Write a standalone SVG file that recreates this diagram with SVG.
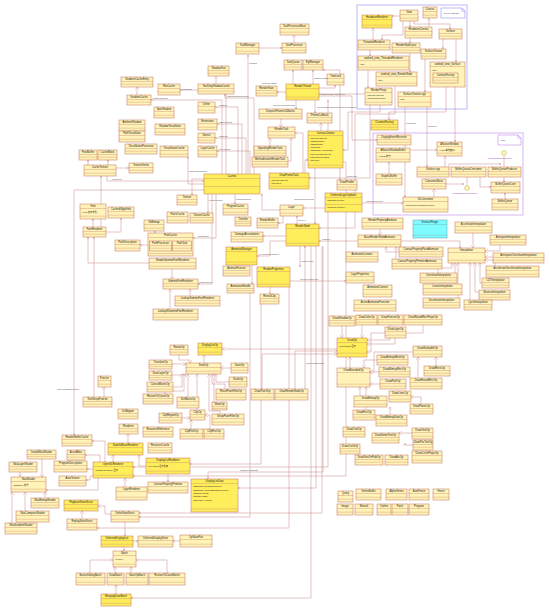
<svg xmlns="http://www.w3.org/2000/svg" width="550" height="611" viewBox="0 0 550 611">
<defs>
<marker id="t" viewBox="0 0 10 10" refX="10" refY="5" markerWidth="3.4" markerHeight="3.4" orient="auto" markerUnits="userSpaceOnUse"><path d="M0,0L10,5L0,10z" fill="#fff" stroke="#c47470" stroke-width="1.1"/></marker>
<marker id="a" viewBox="0 0 10 10" refX="10" refY="5" markerWidth="2.4" markerHeight="2.4" orient="auto" markerUnits="userSpaceOnUse"><path d="M0,0L10,5L0,10" fill="none" stroke="#c47470" stroke-width="1.6"/></marker>
</defs>
<style>
.n rect{fill:#fff3b8;stroke:#c47a6c;stroke-width:.55}
.h rect{fill:#ffee5c}
.cy rect{fill:#7ffcff;stroke:#6fa0a0}
.n path{fill:none;stroke:#c47a6c;stroke-width:.35}
.n text{font-family:"Liberation Sans","Noto Sans CJK SC",sans-serif;font-size:2.6px;fill:#222;text-anchor:middle}
.n text.f{font-size:2.2px;text-anchor:start}
.c path{fill:none;stroke:#c98584;stroke-width:.5}
.c .g{marker-end:url(#t)}
.c .s{marker-end:url(#a)}
.lb text{font-family:"Liberation Sans",sans-serif;font-size:2.3px;fill:#555}
.lb text.p{fill:#a040c0}
.fr{fill:none;stroke-width:.75}
.note path{fill:#fff;stroke-width:.5}
.note text{font-family:"Liberation Sans",sans-serif;font-size:2.4px;fill:#333}
</style>
<rect width="550" height="611" fill="#fff"/>
<rect class="fr" x="357" y="5" width="110" height="104" stroke="#a6a2f4"/>
<rect class="fr" x="373" y="133" width="150" height="82" stroke="#cc9cf0"/>
<g id="connectors" class="c">
<path class="g" d="M137 95V87"/>
<path class="g" d="M294 43V35"/>
<path class="g" d="M216 84V76"/>
<path class="g" d="M281 119V127"/>
<path class="g" d="M270 146V138"/>
<path class="g" d="M288 161H291V138"/>
<path class="g" d="M303 173V133H295"/>
<path class="g" d="M321 131V123"/>
<path class="g" d="M373 40V28"/>
<path class="g" d="M429 27V18"/>
<path class="g" d="M446 85V112H389V120"/>
<path class="g" d="M389 174V162"/>
<path class="g" d="M445 167V156"/>
<path class="g" d="M434 197V189"/>
<path class="g" d="M380 229V235"/>
<path class="g" d="M399 252H386V247"/>
<path class="g" d="M396 259V247"/>
<path class="g" d="M473 233V248"/>
<path class="g" d="M500 245V251H485"/>
<path class="g" d="M493 257H485"/>
<path class="g" d="M495 266V260H485"/>
<path class="g" d="M438 273V268H452V263"/>
<path class="g" d="M455 284V263"/>
<path class="g" d="M458 298V263"/>
<path class="g" d="M470 300V263"/>
<path class="g" d="M479 292H475V263"/>
<path class="g" d="M482 283H480V263"/>
<path class="g" d="M204 363V355"/>
<path class="g" d="M337 349H222"/>
<path class="g" d="M172 364H186"/>
<path class="g" d="M172 375H186"/>
<path class="g" d="M179 355V360H190V363"/>
<path class="g" d="M173 387H182V374"/>
<path class="g" d="M165 394V391H184V374"/>
<path class="g" d="M188 397V374"/>
<path class="g" d="M197 410V374"/>
<path class="g" d="M231 368H221"/>
<path class="g" d="M229 382H216V374"/>
<path class="g" d="M225 389V384H212V374"/>
<path class="g" d="M214 402V374"/>
<path class="g" d="M220 414V411H209V374"/>
<path class="g" d="M191 429V420"/>
<path class="g" d="M210 429V415H205"/>
<path class="g" d="M182 418H190"/>
<path class="g" d="M342 326V338"/>
<path class="g" d="M362 325V338"/>
<path class="g" d="M390 325V340H367"/>
<path class="g" d="M395 338V344H367"/>
<path class="g" d="M423 325V333H371V352H367"/>
<path class="g" d="M413 352H374V372H370"/>
<path class="g" d="M350 368V357"/>
<path class="g" d="M377 360H364V368"/>
<path class="g" d="M379 372H370"/>
<path class="g" d="M380 384H370"/>
<path class="g" d="M436 366V357"/>
<path class="g" d="M418 378V357"/>
<path class="g" d="M360 396V387"/>
<path class="g" d="M366 410V387"/>
<path class="g" d="M390 415V407"/>
<path class="g" d="M421 404V397H411"/>
<path class="g" d="M412 433H399"/>
<path class="g" d="M413 445H405V443"/>
<path class="g" d="M262 389V354H337"/>
<path class="g" d="M295 389V351H337"/>
<path class="g" d="M172 269V279"/>
<path class="g" d="M190 296V289"/>
<path class="g" d="M170 309V289"/>
<path class="g" d="M104 397V387"/>
<path class="g" d="M20 472V477"/>
<path class="g" d="M42 459V477"/>
<path class="g" d="M45 498V492"/>
<path class="g" d="M25 511V492"/>
<path class="g" d="M12 523V492"/>
<path class="g" d="M113 462V455"/>
<path class="g" d="M128 443V434"/>
<path class="g" d="M146 466H139V455"/>
<path class="g" d="M125 487V478"/>
<path class="g" d="M82 519V511"/>
<path class="g" d="M111 514H105V506H98"/>
<path class="g" d="M90 573V560H113"/>
<path class="g" d="M115 573V567"/>
<path class="g" d="M131 573V567"/>
<path class="g" d="M167 573V560H136"/>
<path class="g" d="M116 594V585"/>
<path class="s" d="M222 174V100H151"/>
<path class="s" d="M226 174V90H180"/>
<path class="s" d="M238 174V107H215"/>
<path class="s" d="M242 174V124H217"/>
<path class="s" d="M246 174V138H215"/>
<path class="s" d="M250 174V151H217"/>
<path class="s" d="M254 174V98H225V94"/>
<path class="s" d="M204 184H188V157"/>
<path class="s" d="M208 194V213"/>
<path class="s" d="M235 194V204"/>
<path class="s" d="M216 194V238H193"/>
<path class="s" d="M107 176V181H204"/>
<path class="s" d="M204 190H74V435"/>
<path class="s" d="M204 179H192V195"/>
<path class="s" d="M212 194V284H198"/>
<path class="s" d="M116 168H129"/>
<path class="s" d="M88 165V160"/>
<path class="s" d="M108 165V160"/>
<path class="s" d="M93 227V219"/>
<path class="s" d="M101 227V176"/>
<path class="s" d="M106 232H121V218"/>
<path class="s" d="M94 397V237"/>
<path class="s" d="M155 233V231"/>
<path class="s" d="M148 245H140"/>
<path class="s" d="M149 263H88V237"/>
<path class="s" d="M248 174V55"/>
<path class="s" d="M259 48H282"/>
<path class="s" d="M293 84V70"/>
<path class="s" d="M313 84V70"/>
<path class="s" d="M286 92H277"/>
<path class="s" d="M319 88H335V85"/>
<path class="s" d="M296 100V109"/>
<path class="s" d="M315 100V113"/>
<path class="s" d="M319 96H352V140H377"/>
<path class="s" d="M365 94H319"/>
<path class="s" d="M370 105V178H309"/>
<path class="s" d="M380 105V112H348V150H343"/>
<path class="s" d="M305 173V160H308"/>
<path class="s" d="M328 131V100"/>
<path class="s" d="M340 131V70H323"/>
<path class="s" d="M315 168V224"/>
<path class="s" d="M340 168V180"/>
<path class="s" d="M325 208H303"/>
<path class="s" d="M297 224V216"/>
<path class="s" d="M280 210H262V194"/>
<path class="s" d="M283 216V223H278"/>
<path class="s" d="M286 236H263"/>
<path class="s" d="M286 241H270V256H257"/>
<path class="s" d="M300 246V267"/>
<path class="s" d="M290 281H346"/>
<path class="s" d="M270 287V294"/>
<path class="s" d="M252 265V284"/>
<path class="s" d="M358 241H319"/>
<path class="s" d="M401 241H460V248"/>
<path class="s" d="M362 203H403"/>
<path class="s" d="M405 107V197"/>
<path class="s" d="M427 107V167"/>
<path class="s" d="M400 16H392"/>
<path class="s" d="M410 21V27"/>
<path class="s" d="M414 21V24H450V29"/>
<path class="s" d="M403 21V35H382V40"/>
<path class="s" d="M410 38V43"/>
<path class="s" d="M443 39V49"/>
<path class="s" d="M456 39V62"/>
<path class="s" d="M370 50V56"/>
<path class="s" d="M410 53V72"/>
<path class="s" d="M425 59V92"/>
<path class="s" d="M368 70V88"/>
<path class="s" d="M395 86V114H355V228H319"/>
<path class="s" d="M455 87V142"/>
<path class="s" d="M410 150H437"/>
<path d="M504 156V167"/>
<path d="M467 177V185"/>
<path class="s" d="M446 184H464"/>
<path class="s" d="M449 169V164H501"/>
<path class="s" d="M504 177V182"/>
<path class="s" d="M480 177V187H491"/>
<path class="s" d="M505 199V193"/>
<path class="s" d="M250 293V517H139"/>
<path class="s" d="M261 304V464H190"/>
<path class="s" d="M289 287V528H97"/>
<path class="s" d="M311 246V598H131"/>
<path class="s" d="M316 246V488H238"/>
<path class="s" d="M322 246V513H139"/>
<path class="s" d="M323 246V472H208V479"/>
<path class="s" d="M328 212V467H133"/>
<path class="s" d="M343 162H346V476H133"/>
<path class="s" d="M305 389V246"/>
<path class="s" d="M93 469H87"/>
<path class="s" d="M93 476H90V480H86"/>
<path class="s" d="M100 462V455H85"/>
<path class="s" d="M105 462V441H92"/>
<path class="s" d="M98 478V490H46"/>
<path class="s" d="M168 474V482"/>
<path class="s" d="M125 522V536"/>
<path class="s" d="M124 547V551"/>
<path class="s" d="M133 541H138"/>
<path class="s" d="M180 541H173"/>
</g>
<g id="nodes">
<g id="GradientCacheEntry" class="n"><rect x="121" y="77" width="32" height="10"/><path d="M121 81.5h32M121 84.2h32"/><text x="137" y="80.4">GradientCacheEntry</text></g>
<g id="FboCache" class="n"><rect x="158" y="84" width="22" height="11"/><path d="M158 88.5h22M158 92.2h22"/><text x="169" y="87.4">FboCache</text></g>
<g id="GradientCache" class="n"><rect x="127" y="95" width="24" height="10"/><path d="M127 99.5h24M127 102.2h24"/><text x="139" y="98.4">GradientCache</text></g>
<g id="SpotShadow" class="n"><rect x="154" y="107" width="20" height="11"/><path d="M154 111.5h20M154 115.2h20"/><text x="164" y="110.4">SpotShadow</text></g>
<g id="AmbientShadow" class="n"><rect x="119" y="120" width="26" height="11"/><path d="M119 124.5h26M119 128.2h26"/><text x="132" y="123.4">AmbientShadow</text></g>
<g id="ShadowTessellator" class="n"><rect x="155" y="124" width="30" height="11"/><path d="M155 128.5h30M155 132.2h30"/><text x="170" y="127.4">ShadowTessellator</text></g>
<g id="PathTessellator" class="n"><rect x="119" y="131" width="26" height="11"/><path d="M119 135.5h26M119 139.2h26"/><text x="132" y="134.4">PathTessellator</text></g>
<g id="TessellationProcessor" class="n"><rect x="125" y="144" width="32" height="10"/><path d="M125 148.5h32M125 151.2h32"/><text x="141" y="147.4">TessellationProcessor</text></g>
<g id="TessellationCache" class="n"><rect x="160" y="146" width="28" height="11"/><path d="M160 150.5h28M160 154.2h28"/><text x="174" y="149.4">TessellationCache</text></g>
<g id="PixelBuffer" class="n"><rect x="79" y="150" width="18" height="10"/><path d="M79 154.5h18M79 157.2h18"/><text x="88" y="153.4">PixelBuffer</text></g>
<g id="CacheBlock" class="n"><rect x="98" y="150" width="19" height="10"/><path d="M98 154.5h19M98 157.2h19"/><text x="107.5" y="153.4">CacheBlock</text></g>
<g id="CacheTexture" class="n"><rect x="84" y="165" width="32" height="11"/><path d="M84 169.5h32M84 173.2h32"/><text x="100" y="168.4">CacheTexture</text></g>
<g id="TextureVertex" class="n"><rect x="129" y="163" width="24" height="10"/><path d="M129 167.5h24M129 170.2h24"/><text x="141" y="166.4">TextureVertex</text></g>
<g id="Font" class="n"><rect x="80" y="204" width="26" height="15"/><path d="M80 208.5h26M80 216.2h26"/><text x="93" y="207.4">Font</text><text class="f" x="81.5" y="212.6">+Font(缓存字形)</text></g>
<g id="CachedGlyphInfo" class="n"><rect x="108" y="207" width="26" height="11"/><path d="M108 211.5h26M108 215.2h26"/><text x="121" y="210.4">CachedGlyphInfo</text></g>
<g id="FontRenderer" class="n"><rect x="83" y="227" width="23" height="10"/><path d="M83 231.5h23M83 234.2h23"/><text x="94.5" y="230.4">FontRenderer</text></g>
<g id="SkBitmap" class="n"><rect x="144" y="220" width="20" height="11"/><path d="M144 224.5h20M144 228.2h20"/><text x="154" y="223.4">SkBitmap</text></g>
<g id="PathCache" class="n"><rect x="148" y="233" width="45" height="23"/><path d="M148 237.5h45M148 253.5h45"/><text x="170.5" y="236.4">PathCache</text>
<rect x="149.5" y="241" width="22" height="10"/><path d="M149.5 245.5h22M149.5 248.2h22"/><text x="160.5" y="244.4">PathProcessor</text>
<rect x="172.5" y="241" width="19" height="10"/><path d="M172.5 245.5h19M172.5 248.2h19"/><text x="182" y="244.4">PathTask</text></g>
<g id="PathDescription" class="n"><rect x="115" y="240" width="25" height="11"/><path d="M115 244.5h25M115 248.2h25"/><text x="127.5" y="243.4">PathDescription</text></g>
<g id="ShaderGammaFontRenderer" class="n"><rect x="149" y="258" width="47" height="11"/><path d="M149 262.5h47M149 266.2h47"/><text x="172.5" y="261.4">ShaderGammaFontRenderer</text></g>
<g id="GammaFontRenderer" class="n"><rect x="163" y="279" width="35" height="10"/><path d="M163 283.5h35M163 286.2h35"/><text x="180.5" y="282.4">GammaFontRenderer</text></g>
<g id="LookupGammaFontRenderer" class="n"><rect x="175" y="296" width="45" height="10"/><path d="M175 300.5h45M175 303.2h45"/><text x="197.5" y="299.4">LookupGammaFontRenderer</text></g>
<g id="Lookup3GammaFontRenderer" class="n"><rect x="153" y="309" width="45" height="11"/><path d="M153 313.5h45M153 317.2h45"/><text x="175.5" y="312.4">Lookup3GammaFontRenderer</text></g>
<g id="TaskProcessorBase" class="n"><rect x="280" y="24" width="29" height="11"/><path d="M280 28.5h29M280 32.2h29"/><text x="294.5" y="27.4">TaskProcessorBase</text></g>
<g id="TaskProcessor" class="n"><rect x="282" y="43" width="24" height="10"/><path d="M282 47.5h24M282 50.2h24"/><text x="294" y="46.4">TaskProcessor</text></g>
<g id="TaskManager" class="n"><rect x="236" y="43" width="23" height="11"/><path d="M236 47.5h23M236 51.2h23"/><text x="247.5" y="46.4">TaskManager</text></g>
<g id="TaskQueue" class="n"><rect x="284" y="60" width="18" height="10"/><path d="M284 64.5h18M284 67.2h18"/><text x="293" y="63.4">TaskQueue</text></g>
<g id="EglManager" class="n"><rect x="303" y="60" width="20" height="10"/><path d="M303 64.5h20M303 67.2h20"/><text x="313" y="63.4">EglManager</text></g>
<g id="ShadowText" class="n"><rect x="208" y="66" width="21" height="10"/><path d="M208 70.5h21M208 73.2h21"/><text x="218.5" y="69.4">ShadowText</text></g>
<g id="TextDropShadowCache" class="n"><rect x="198" y="84" width="36" height="10"/><path d="M198 88.5h36M198 91.2h36"/><text x="216" y="87.4">TextDropShadowCache</text></g>
<g id="RenderState" class="n"><rect x="256" y="86" width="21" height="10"/><path d="M256 90.5h21M256 93.2h21"/><text x="266.5" y="89.4">RenderState</text></g>
<g id="RenderThread" class="n h"><rect x="286" y="84" width="33" height="16"/><path d="M286 88.5h33M286 97.2h33"/><text x="302.5" y="87.4">RenderThread</text></g>
<g id="TimeLord" class="n"><rect x="327" y="74" width="17" height="11"/><path d="M327 78.5h17M327 82.2h17"/><text x="335.5" y="77.4">TimeLord</text></g>
<g id="Dither" class="n"><rect x="198" y="102" width="17" height="11"/><path d="M198 106.5h17M198 110.2h17"/><text x="206.5" y="105.4">Dither</text></g>
<g id="Extensions" class="n"><rect x="198" y="119" width="19" height="11"/><path d="M198 123.5h19M198 127.2h19"/><text x="207.5" y="122.4">Extensions</text></g>
<g id="Stencil" class="n"><rect x="198" y="133" width="17" height="10"/><path d="M198 137.5h17M198 140.2h17"/><text x="206.5" y="136.4">Stencil</text></g>
<g id="LayerCache" class="n"><rect x="198" y="146" width="19" height="11"/><path d="M198 150.5h19M198 154.2h19"/><text x="207.5" y="149.4">LayerCache</text></g>
<g id="DispatchFrameCallbacks" class="n"><rect x="259" y="109" width="43" height="10"/><path d="M259 113.5h43M259 116.2h43"/><text x="280.5" y="112.4">DispatchFrameCallbacks</text></g>
<g id="IFrameCallback" class="n"><rect x="307" y="113" width="25" height="10"/><path d="M307 117.5h25M307 120.2h25"/><text x="319.5" y="116.4">IFrameCallback</text></g>
<g id="RenderTask" class="n"><rect x="268" y="127" width="27" height="11"/><path d="M268 131.5h27M268 135.2h27"/><text x="281.5" y="130.4">RenderTask</text></g>
<g id="CanvasContext" class="n h"><rect x="308" y="131" width="35" height="37"/><path d="M308 135.5h35M308 165.2h35"/><text x="325.5" y="134.4">CanvasContext</text><text class="f" x="309.5" y="138.6">+mRenderThread</text><text class="f" x="309.5" y="141.8">+mEglManager</text><text class="f" x="309.5" y="145">+mEglSurface</text><text class="f" x="309.5" y="148.2">+mCanvas</text><text class="f" x="309.5" y="151.4">+mDamageAccumulator</text><text class="f" x="309.5" y="154.6">+mPrefetechedLayers</text><text class="f" x="309.5" y="157.8">+mRootRenderNode</text><text class="f" x="309.5" y="161">+mProfiler</text></g>
<g id="SignalingRenderTask" class="n"><rect x="254" y="146" width="32" height="10"/><path d="M254 150.5h32M254 153.2h32"/><text x="270" y="149.4">SignalingRenderTask</text></g>
<g id="MethodInvokeRenderTask" class="n"><rect x="252" y="157" width="36" height="10"/><path d="M252 161.5h36M252 164.2h36"/><text x="270" y="160.4">MethodInvokeRenderTask</text></g>
<g id="DrawFrameTask" class="n h"><rect x="269" y="173" width="40" height="16"/><path d="M269 177.5h40M269 186.2h40"/><text x="289" y="176.4">DrawFrameTask</text><text class="f" x="270.5" y="180.6">+mRenderThread</text><text class="f" x="270.5" y="183.8">+mContext</text></g>
<g id="DrawProfiler" class="n"><rect x="337" y="180" width="20" height="10"/><path d="M337 184.5h20M337 187.2h20"/><text x="347" y="183.4">DrawProfiler</text></g>
<g id="DeferredLayerUpdater" class="n h"><rect x="325" y="193" width="37" height="19"/><path d="M325 197.5h37M325 204.5h37"/><text x="343.5" y="196.4">DeferredLayerUpdater</text><text class="f" x="326.5" y="201">+mSurfaceTexture</text><text class="f" x="326.5" y="208.2">+updateTexImage()</text></g>
<g id="Caches" class="n h"><rect x="204" y="174" width="56" height="20"/><path d="M204 178.5h56M204 186.5h56"/><text x="232" y="177.4">Caches</text></g>
<g id="ProgramCache" class="n"><rect x="223" y="204" width="25" height="11"/><path d="M223 208.5h25M223 212.2h25"/><text x="235.5" y="207.4">ProgramCache</text></g>
<g id="Layer" class="n"><rect x="280" y="205" width="23" height="11"/><path d="M280 209.5h23M280 213.2h23"/><text x="291.5" y="208.4">Layer</text></g>
<g id="Texture" class="n"><rect x="177" y="195" width="20" height="10"/><path d="M177 199.5h20M177 202.2h20"/><text x="187" y="198.4">Texture</text></g>
<g id="PatchCache" class="n"><rect x="167" y="212" width="21" height="11"/><path d="M167 216.5h21M167 220.2h21"/><text x="177.5" y="215.4">PatchCache</text></g>
<g id="TextureCache" class="n"><rect x="190" y="213" width="23" height="10"/><path d="M190 217.5h23M190 220.2h23"/><text x="201.5" y="216.4">TextureCache</text></g>
<g id="TreeInfo" class="n"><rect x="235" y="217" width="16" height="9"/><path d="M235 221.5h16M235 223.6h16"/><text x="243" y="220.4">TreeInfo</text></g>
<g id="RenderBuffer" class="n"><rect x="257" y="218" width="21" height="10"/><path d="M257 222.5h21M257 225.2h21"/><text x="267.5" y="221.4">RenderBuffer</text></g>
<g id="RenderNode" class="n h"><rect x="286" y="224" width="33" height="22"/><path d="M286 228.5h33M286 243.2h33"/><text x="302.5" y="227.4">RenderNode</text></g>
<g id="DamageAccumulator" class="n"><rect x="231" y="232" width="32" height="10"/><path d="M231 236.5h32M231 239.2h32"/><text x="247" y="235.4">DamageAccumulator</text></g>
<g id="AnimatorManager" class="n h"><rect x="226" y="247" width="31" height="18"/><path d="M226 251.5h31M226 262.2h31"/><text x="241.5" y="250.4">AnimatorManager</text></g>
<g id="AnimateFunctor" class="n"><rect x="223" y="266" width="27" height="10"/><path d="M223 270.5h27M223 273.2h27"/><text x="236.5" y="269.4">AnimateFunctor</text></g>
<g id="RenderProperties" class="n h"><rect x="257" y="267" width="33" height="20"/><path d="M257 271.5h33M257 284.2h33"/><text x="273.5" y="270.4">RenderProperties</text></g>
<g id="AnimationHandle" class="n"><rect x="227" y="284" width="27" height="9"/><path d="M227 288.5h27M227 290.6h27"/><text x="240.5" y="287.4">AnimationHandle</text></g>
<g id="RevealClip" class="n"><rect x="260" y="294" width="19" height="10"/><path d="M260 298.5h19M260 301.2h19"/><text x="269.5" y="297.4">RevealClip</text></g>
<g id="LayerProperties" class="n"><rect x="346" y="272" width="28" height="11"/><path d="M346 276.5h28M346 280.2h28"/><text x="360" y="275.4">LayerProperties</text></g>
<g id="AnimationListener" class="n"><rect x="346" y="252" width="32" height="10"/><path d="M346 256.5h32M346 259.2h32"/><text x="362" y="255.4">AnimationListener</text></g>
<g id="ActiveAnimationFunction" class="n"><rect x="354" y="300" width="42" height="11"/><path d="M354 304.5h42M354 308.2h42"/><text x="375" y="303.4">ActiveAnimationFunction</text></g>
<g id="HardwareRenderer" class="n h"><rect x="362" y="15" width="30" height="13"/><path d="M362 19.5h30M362 25.2h30"/><text x="377" y="18.4">HardwareRenderer</text></g>
<g id="View" class="n"><rect x="400" y="10" width="18" height="11"/><path d="M400 14.5h18M400 18.2h18"/><text x="409" y="13.4">View</text></g>
<g id="Canvas" class="n"><rect x="423" y="7" width="14" height="11"/><path d="M423 11.5h14M423 15.2h14"/><text x="430" y="10.4">Canvas</text></g>
<g id="note-app" class="note"><path d="M441 8H462L465 11V18H441Z M462 8V11H465" stroke="#7a78f0"/><text x="443" y="14">App UI Thread</text></g>
<g id="ThreadedRenderer" class="n"><rect x="358" y="40" width="32" height="10"/><path d="M358 44.5h32M358 47.2h32"/><text x="374" y="43.4">ThreadedRenderer</text></g>
<g id="HardwareCanvas" class="n"><rect x="405" y="27" width="27" height="11"/><path d="M405 31.5h27M405 35.2h27"/><text x="418.5" y="30.4">HardwareCanvas</text></g>
<g id="Surface" class="n"><rect x="439" y="29" width="23" height="10"/><path d="M439 33.5h23M439 36.2h23"/><text x="450.5" y="32.4">Surface</text></g>
<g id="RenderNode_java" class="n"><rect x="392" y="43" width="28" height="10"/><path d="M392 47.5h28M392 50.2h28"/><text x="406" y="46.4">RenderNode.java</text></g>
<g id="SurfaceTexture" class="n"><rect x="421" y="49" width="25" height="10"/><path d="M421 53.5h25M421 56.2h25"/><text x="433.5" y="52.4">SurfaceTexture</text></g>
<g id="android_view_ThreadedRenderer" class="n"><rect x="358" y="56" width="51" height="14"/><path d="M358 60.5h51M358 67.2h51"/><text x="383.5" y="59.4">android_view_ThreadedRenderer</text><text class="f" x="359.5" y="64.6">«JNI»</text></g>
<g id="android_view_RenderNode" class="n"><rect x="376" y="72" width="41" height="14"/><path d="M376 76.5h41M376 83.2h41"/><text x="396.5" y="75.4">android_view_RenderNode</text><text class="f" x="377.5" y="80.6">«JNI»</text></g>
<g id="android_view_Surface" class="n"><rect x="430" y="62" width="35" height="25"/><path d="M430 66.5h35"/><text x="447.5" y="65.4">android_view_Surface</text><text class="f" x="431.5" y="70.6">«JNI»</text>
<rect x="433" y="73" width="25" height="10"/><path d="M433 77.5h25M433 80.2h25"/><text x="445.5" y="76.4">ContextFactory</text></g>
<g id="RenderProxy" class="n"><rect x="365" y="88" width="27" height="17"/><path d="M365 92.5h27M365 102.2h27"/><text x="378.5" y="91.4">RenderProxy</text><text class="f" x="366.5" y="95.6">+mRenderThread</text><text class="f" x="366.5" y="98.8">+mDrawFrameTask</text></g>
<g id="SurfaceTexture_cpp" class="n"><rect x="398" y="92" width="33" height="15"/><path d="M398 96.5h33M398 102.2h33"/><text x="414.5" y="95.4">SurfaceTexture.cpp</text><text class="f" x="399.5" y="100.2">«JNI»</text></g>
<g id="IContextFactory" class="n h"><rect x="371" y="120" width="27" height="10"/><path d="M371 124.5h27M371 127.2h27"/><text x="384.5" y="123.4">IContextFactory</text></g>
<g id="DisplayEventReceiver" class="n"><rect x="377" y="135" width="34" height="10"/><path d="M377 139.5h34M377 142.2h34"/><text x="394" y="138.4">DisplayEventReceiver</text></g>
<g id="note-gui" class="note"><path d="M498 135H518L521 138V145H498Z M518 135V138H521" stroke="#b070e0"/><text x="501" y="141">GUI</text></g>
<g id="ANativeWindowBuffer" class="n"><rect x="376" y="148" width="34" height="14"/><path d="M376 152.5h34M376 159.2h34"/><text x="393" y="151.4">ANativeWindowBuffer</text><text class="f" x="377.5" y="156.6">+ANWB(包装)</text></g>
<g id="ANativeWindow" class="n"><rect x="437" y="142" width="25" height="14"/><path d="M437 146.5h25M437 153.2h25"/><text x="449.5" y="145.4">ANativeWindow</text><text class="f" x="438.5" y="150.6">+ANW(本地窗口)</text></g>
<g id="IGraphicBufferProducer" class="n"><circle cx="504" cy="153" r="2.4" fill="#fff8b0" stroke="#b09040" stroke-width=".4"/></g>
<g id="GraphicBuffer" class="n"><rect x="376" y="174" width="26" height="11"/><path d="M376 178.5h26M376 182.2h26"/><text x="389" y="177.4">GraphicBuffer</text></g>
<g id="Surface_cpp" class="n"><rect x="417" y="167" width="32" height="10"/><path d="M417 171.5h32M417 174.2h32"/><text x="433" y="170.4">Surface.cpp</text></g>
<g id="BufferQueueConsumer" class="n"><rect x="451" y="167" width="35" height="10"/><path d="M451 171.5h35M451 174.2h35"/><text x="468.5" y="170.4">BufferQueueConsumer</text></g>
<g id="BufferQueueProducer" class="n"><rect x="488" y="167" width="33" height="10"/><path d="M488 171.5h33M488 174.2h33"/><text x="504.5" y="170.4">BufferQueueProducer</text></g>
<g id="ConsumerBase" class="n"><rect x="422" y="179" width="24" height="10"/><path d="M422 183.5h24M422 186.2h24"/><text x="434" y="182.4">ConsumerBase</text></g>
<g id="IGraphicBufferConsumer" class="n"><circle cx="467" cy="188" r="2.4" fill="#fff8b0" stroke="#b09040" stroke-width=".4"/></g>
<g id="BufferQueueCore" class="n"><rect x="491" y="182" width="29" height="11"/><path d="M491 186.5h29M491 190.2h29"/><text x="505.5" y="185.4">BufferQueueCore</text></g>
<g id="GLConsumer" class="n"><rect x="403" y="197" width="45" height="15"/><path d="M403 201.5h45M403 209.2h45"/><text x="425.5" y="200.4">GLConsumer</text><text class="f" x="404.5" y="205.8">+GLConsumer(SurfaceTexture)</text></g>
<g id="BufferQueue" class="n"><rect x="492" y="199" width="26" height="11"/><path d="M492 203.5h26M492 207.2h26"/><text x="505" y="202.4">BufferQueue</text></g>
<g id="SurfaceFlinger" class="n cy"><rect x="413" y="220" width="34" height="18"/><path d="M413 224.5h34M413 235.2h34" style="stroke:#6fa0a0"/><text x="430" y="223.4">SurfaceFlinger</text></g>
<g id="RenderPropertyAnimator" class="n"><rect x="362" y="218" width="41" height="11"/><path d="M362 222.5h41M362 226.2h41"/><text x="382.5" y="221.4">RenderPropertyAnimator</text></g>
<g id="AccelerateInterpolator" class="n"><rect x="455" y="222" width="37" height="11"/><path d="M455 226.5h37M455 230.2h37"/><text x="473.5" y="225.4">AccelerateInterpolator</text></g>
<g id="BaseRenderNodeAnimator" class="n"><rect x="358" y="235" width="43" height="12"/><path d="M358 239.5h43M358 244.2h43"/><text x="379.5" y="238.4">BaseRenderNodeAnimator</text></g>
<g id="AnticipateInterpolator" class="n"><rect x="490" y="235" width="36" height="10"/><path d="M490 239.5h36M490 242.2h36"/><text x="508" y="238.4">AnticipateInterpolator</text></g>
<g id="CanvasPropertyPaintAnimator" class="n"><rect x="399" y="247" width="44" height="10"/><path d="M399 251.5h44M399 254.2h44"/><text x="421" y="250.4">CanvasPropertyPaintAnimator</text></g>
<g id="Interpolator" class="n"><rect x="448" y="248" width="37" height="15"/><path d="M448 252.5h37M448 260.2h37"/><text x="466.5" y="251.4">Interpolator</text></g>
<g id="AnticipateOvershootInterpolator" class="n"><rect x="493" y="253" width="51" height="10"/><path d="M493 257.5h51M493 260.2h51"/><text x="518.5" y="256.4">AnticipateOvershootInterpolator</text></g>
<g id="CanvasPropertyPrimitiveAnimator" class="n"><rect x="392" y="259" width="50" height="10"/><path d="M392 263.5h50M392 266.2h50"/><text x="417" y="262.4">CanvasPropertyPrimitiveAnimator</text></g>
<g id="AccelerateDecelerateInterpolator" class="n"><rect x="486" y="266" width="53" height="11"/><path d="M486 270.5h53M486 274.2h53"/><text x="512.5" y="269.4">AccelerateDecelerateInterpolator</text></g>
<g id="OvershootInterpolator" class="n"><rect x="420" y="273" width="37" height="10"/><path d="M420 277.5h37M420 280.2h37"/><text x="438.5" y="276.4">OvershootInterpolator</text></g>
<g id="LUTInterpolator" class="n"><rect x="482" y="278" width="27" height="10"/><path d="M482 282.5h27M482 285.2h27"/><text x="495.5" y="281.4">LUTInterpolator</text></g>
<g id="LinearInterpolator" class="n"><rect x="423" y="284" width="39" height="11"/><path d="M423 288.5h39M423 292.2h39"/><text x="442.5" y="287.4">LinearInterpolator</text></g>
<g id="BounceInterpolator" class="n"><rect x="479" y="290" width="31" height="10"/><path d="M479 294.5h31M479 297.2h31"/><text x="494.5" y="293.4">BounceInterpolator</text></g>
<g id="DecelerateInterpolator" class="n"><rect x="423" y="298" width="37" height="10"/><path d="M423 302.5h37M423 305.2h37"/><text x="441.5" y="301.4">DecelerateInterpolator</text></g>
<g id="CycleInterpolator" class="n"><rect x="464" y="300" width="28" height="10"/><path d="M464 304.5h28M464 307.2h28"/><text x="478" y="303.4">CycleInterpolator</text></g>
<g id="AnimationContext" class="n"><rect x="363" y="285" width="29" height="12"/><path d="M363 289.5h29M363 294.2h29"/><text x="377.5" y="288.4">AnimationContext</text></g>
<g id="DisplayListOp" class="n h"><rect x="198" y="343" width="24" height="12"/><path d="M198 347.5h24M198 352.2h24"/><text x="210" y="346.4">DisplayListOp</text></g>
<g id="RotateOp" class="n"><rect x="170" y="345" width="18" height="10"/><path d="M170 349.5h18M170 352.2h18"/><text x="179" y="348.4">RotateOp</text></g>
<g id="StateOp" class="n"><rect x="186" y="363" width="35" height="11"/><path d="M186 367.5h35M186 371.2h35"/><text x="203.5" y="366.4">StateOp</text></g>
<g id="TranslateOp" class="n"><rect x="149" y="360" width="23" height="9"/><path d="M149 364.5h23M149 366.6h23"/><text x="160.5" y="363.4">TranslateOp</text></g>
<g id="SaveLayerOp" class="n"><rect x="149" y="371" width="23" height="9"/><path d="M149 375.5h23M149 377.6h23"/><text x="160.5" y="374.4">SaveLayerOp</text></g>
<g id="SaveOp" class="n"><rect x="231" y="363" width="17" height="10"/><path d="M231 367.5h17M231 370.2h17"/><text x="239.5" y="366.4">SaveOp</text></g>
<g id="ScaleOp" class="n"><rect x="229" y="377" width="18" height="10"/><path d="M229 381.5h18M229 384.2h18"/><text x="238" y="380.4">ScaleOp</text></g>
<g id="ConcatMatrixOp" class="n"><rect x="147" y="382" width="26" height="10"/><path d="M147 386.5h26M147 389.2h26"/><text x="160" y="385.4">ConcatMatrixOp</text></g>
<g id="RestoreToCountOp" class="n"><rect x="143" y="394" width="30" height="10"/><path d="M143 398.5h30M143 401.2h30"/><text x="158" y="397.4">RestoreToCountOp</text></g>
<g id="SetMatrixOp" class="n"><rect x="177" y="397" width="22" height="11"/><path d="M177 401.5h22M177 405.2h22"/><text x="188" y="400.4">SetMatrixOp</text></g>
<g id="ResetPaintFilterOp" class="n"><rect x="216" y="389" width="30" height="11"/><path d="M216 393.5h30M216 397.2h30"/><text x="231" y="392.4">ResetPaintFilterOp</text></g>
<g id="SkewOp" class="n"><rect x="212" y="402" width="15" height="8"/><path d="M212 406.5h15M212 408.4h15"/><text x="219.5" y="405.4">SkewOp</text></g>
<g id="ClipOp" class="n"><rect x="190" y="410" width="15" height="10"/><path d="M190 414.5h15M190 417.2h15"/><text x="197.5" y="413.4">ClipOp</text></g>
<g id="SetupPaintFilterOp" class="n"><rect x="212" y="414" width="32" height="11"/><path d="M212 418.5h32M212 422.2h32"/><text x="228" y="417.4">SetupPaintFilterOp</text></g>
<g id="ClipPathOp" class="n"><rect x="180" y="429" width="23" height="10"/><path d="M180 433.5h23M180 436.2h23"/><text x="191.5" y="432.4">ClipPathOp</text></g>
<g id="ClipRectOp" class="n"><rect x="204" y="429" width="20" height="10"/><path d="M204 433.5h20M204 436.2h20"/><text x="214" y="432.4">ClipRectOp</text></g>
<g id="ClipRegionOp" class="n"><rect x="159" y="413" width="23" height="10"/><path d="M159 417.5h23M159 420.2h23"/><text x="170.5" y="416.4">ClipRegionOp</text></g>
<g id="Functor" class="n"><rect x="98" y="376" width="13" height="11"/><path d="M98 380.5h13M98 384.2h13"/><text x="104.5" y="379.4">Functor</text></g>
<g id="TextSetupFunctor" class="n"><rect x="83" y="397" width="29" height="10"/><path d="M83 401.5h29M83 404.2h29"/><text x="97.5" y="400.4">TextSetupFunctor</text></g>
<g id="UvMapper" class="n"><rect x="118" y="409" width="20" height="10"/><path d="M118 413.5h20M118 416.2h20"/><text x="128" y="412.4">UvMapper</text></g>
<g id="Renderer" class="n"><rect x="119" y="424" width="19" height="10"/><path d="M119 428.5h19M119 431.2h19"/><text x="128.5" y="427.4">Renderer</text></g>
<g id="ResourceReference" class="n"><rect x="143" y="427" width="30" height="10"/><path d="M143 431.5h30M143 434.2h30"/><text x="158" y="430.4">ResourceReference</text></g>
<g id="RenderBufferCache" class="n"><rect x="62" y="435" width="30" height="11"/><path d="M62 439.5h30M62 443.2h30"/><text x="77" y="438.4">RenderBufferCache</text></g>
<g id="StatefulBaseRenderer" class="n h"><rect x="108" y="443" width="35" height="12"/><path d="M108 447.5h35M108 452.2h35"/><text x="125.5" y="446.4">StatefulBaseRenderer</text></g>
<g id="ResourceCache" class="n"><rect x="148" y="443" width="24" height="10"/><path d="M148 447.5h24M148 450.2h24"/><text x="160" y="446.4">ResourceCache</text></g>
<g id="DrawPatchOp" class="n"><rect x="251" y="389" width="23" height="11"/><path d="M251 393.5h23M251 397.2h23"/><text x="262.5" y="392.4">DrawPatchOp</text></g>
<g id="DrawRenderNodeOp" class="n"><rect x="275" y="389" width="33" height="11"/><path d="M275 393.5h33M275 397.2h33"/><text x="291.5" y="392.4">DrawRenderNodeOp</text></g>
<g id="DrawOp" class="n h"><rect x="337" y="338" width="30" height="19"/><path d="M337 342.5h30M337 353.2h30"/><text x="352" y="341.4">DrawOp</text><text class="f" x="338.5" y="347.2">+Commands 显示</text></g>
<g id="DrawShadowOp" class="n"><rect x="329" y="316" width="26" height="10"/><path d="M329 320.5h26M329 323.2h26"/><text x="342" y="319.4">DrawShadowOp</text></g>
<g id="DrawColorOp" class="n"><rect x="356" y="315" width="21" height="10"/><path d="M356 319.5h21M356 322.2h21"/><text x="366.5" y="318.4">DrawColorOp</text></g>
<g id="DrawFunctorOp" class="n"><rect x="378" y="315" width="25" height="10"/><path d="M378 319.5h25M378 322.2h25"/><text x="390.5" y="318.4">DrawFunctorOp</text></g>
<g id="DrawRoundRectPropsOp" class="n"><rect x="404" y="315" width="38" height="10"/><path d="M404 319.5h38M404 322.2h38"/><text x="423" y="318.4">DrawRoundRectPropsOp</text></g>
<g id="DrawLayerOp" class="n"><rect x="385" y="327" width="21" height="11"/><path d="M385 331.5h21M385 335.2h21"/><text x="395.5" y="330.4">DrawLayerOp</text></g>
<g id="DrawStrokableOp" class="n"><rect x="413" y="346" width="29" height="11"/><path d="M413 350.5h29M413 354.2h29"/><text x="427.5" y="349.4">DrawStrokableOp</text></g>
<g id="DrawBitmapMeshOp" class="n"><rect x="377" y="355" width="31" height="10"/><path d="M377 359.5h31M377 362.2h31"/><text x="392.5" y="358.4">DrawBitmapMeshOp</text></g>
<g id="DrawBoundedOp" class="n"><rect x="337" y="368" width="33" height="19"/><path d="M337 372.5h33M337 384.2h33"/><text x="353.5" y="371.4">DrawBoundedOp</text></g>
<g id="DrawBitmapRectOp" class="n"><rect x="379" y="367" width="31" height="10"/><path d="M379 371.5h31M379 374.2h31"/><text x="394.5" y="370.4">DrawBitmapRectOp</text></g>
<g id="DrawRectsOp" class="n"><rect x="424" y="366" width="26" height="10"/><path d="M424 370.5h26M424 373.2h26"/><text x="437" y="369.4">DrawRectsOp</text></g>
<g id="DrawPathOp" class="n"><rect x="380" y="379" width="26" height="10"/><path d="M380 383.5h26M380 386.2h26"/><text x="393" y="382.4">DrawPathOp</text></g>
<g id="DrawRoundRectOp" class="n"><rect x="410" y="378" width="32" height="11"/><path d="M410 382.5h32M410 386.2h32"/><text x="426" y="381.4">DrawRoundRectOp</text></g>
<g id="DrawLinesOp" class="n"><rect x="389" y="391" width="22" height="11"/><path d="M389 395.5h22M389 399.2h22"/><text x="400" y="394.4">DrawLinesOp</text></g>
<g id="DrawPointsOp" class="n"><rect x="410" y="404" width="23" height="10"/><path d="M410 408.5h23M410 411.2h23"/><text x="421.5" y="407.4">DrawPointsOp</text></g>
<g id="DrawBitmapOp" class="n"><rect x="354" y="396" width="33" height="11"/><path d="M354 400.5h33M354 404.2h33"/><text x="370.5" y="399.4">DrawBitmapOp</text></g>
<g id="DrawRectOp" class="n"><rect x="353" y="410" width="22" height="10"/><path d="M353 414.5h22M353 417.2h22"/><text x="364" y="413.4">DrawRectOp</text></g>
<g id="DrawBitmapDataOp" class="n"><rect x="376" y="415" width="31" height="11"/><path d="M376 419.5h31M376 423.2h31"/><text x="391.5" y="418.4">DrawBitmapDataOp</text></g>
<g id="DrawTextOp" class="n"><rect x="412" y="428" width="21" height="11"/><path d="M412 432.5h21M412 436.2h21"/><text x="422.5" y="431.4">DrawTextOp</text></g>
<g id="DrawSomeTextOp" class="n"><rect x="372" y="433" width="27" height="10"/><path d="M372 437.5h27M372 440.2h27"/><text x="385.5" y="436.4">DrawSomeTextOp</text></g>
<g id="DrawPosTextOp" class="n"><rect x="413" y="440" width="20" height="10"/><path d="M413 444.5h20M413 447.2h20"/><text x="423" y="443.4">DrawPosTextOp</text></g>
<g id="DrawOvalOp" class="n"><rect x="343" y="427" width="22" height="10"/><path d="M343 431.5h22M343 434.2h22"/><text x="354" y="430.4">DrawOvalOp</text></g>
<g id="DrawCircleOp" class="n"><rect x="340" y="444" width="20" height="10"/><path d="M340 448.5h20M340 451.2h20"/><text x="350" y="447.4">DrawCircleOp</text></g>
<g id="DrawTextOnPathOp" class="n"><rect x="355" y="455" width="28" height="10"/><path d="M355 459.5h28M355 462.2h28"/><text x="369" y="458.4">DrawTextOnPathOp</text></g>
<g id="DrawArcOp" class="n"><rect x="385" y="455" width="23" height="10"/><path d="M385 459.5h23M385 462.2h23"/><text x="396.5" y="458.4">DrawArcOp</text></g>
<g id="DrawCirclePropsOp" class="n"><rect x="412" y="451" width="30" height="12"/><path d="M412 455.5h30M412 460.2h30"/><text x="427" y="454.4">DrawCirclePropsOp</text></g>
<g id="InvalidSkiaShader" class="n"><rect x="27" y="450" width="29" height="9"/><path d="M27 454.5h29M27 456.6h29"/><text x="41.5" y="453.4">InvalidSkiaShader</text></g>
<g id="AssetAtlas" class="n"><rect x="67" y="450" width="18" height="10"/><path d="M67 454.5h18M67 457.2h18"/><text x="76" y="453.4">AssetAtlas</text></g>
<g id="SkiaLayerShader" class="n"><rect x="9" y="462" width="28" height="10"/><path d="M9 466.5h28M9 469.2h28"/><text x="23" y="465.4">SkiaLayerShader</text></g>
<g id="ProgramDescription" class="n"><rect x="54" y="461" width="33" height="11"/><path d="M54 465.5h33M54 469.2h33"/><text x="70.5" y="464.4">ProgramDescription</text></g>
<g id="OpenGLRenderer" class="n h"><rect x="93" y="462" width="40" height="16"/><path d="M93 466.5h40M93 475.2h40"/><text x="113" y="465.4">OpenGLRenderer</text><text class="f" x="94.5" y="470.8">+drawRenderNode 显示</text></g>
<g id="DisplayListRenderer" class="n h"><rect x="146" y="458" width="44" height="16"/><path d="M146 462.5h44M146 471.2h44"/><text x="168" y="461.4">DisplayListRenderer</text><text class="f" x="147.5" y="466.8">+Recording 显示列表</text></g>
<g id="SkiaShader" class="n"><rect x="11" y="477" width="35" height="15"/><path d="M11 481.5h35M11 489.2h35"/><text x="28.5" y="480.4">SkiaShader</text><text class="f" x="12.5" y="485.8">+SkShader 包装</text></g>
<g id="AutoTexture" class="n"><rect x="59" y="476" width="27" height="10"/><path d="M59 480.5h27M59 483.2h27"/><text x="72.5" y="479.4">AutoTexture</text></g>
<g id="CanvasPropertyPrimitive" class="n"><rect x="148" y="482" width="40" height="11"/><path d="M148 486.5h40M148 490.2h40"/><text x="168" y="485.4">CanvasPropertyPrimitive</text></g>
<g id="SkiaBitmapShader" class="n"><rect x="31" y="498" width="28" height="10"/><path d="M31 502.5h28M31 505.2h28"/><text x="45" y="501.4">SkiaBitmapShader</text></g>
<g id="LayerRenderer" class="n"><rect x="116" y="487" width="31" height="13"/><path d="M116 491.5h31M116 497.2h31"/><text x="131.5" y="490.4">LayerRenderer</text></g>
<g id="PlaybackStateStruct" class="n h"><rect x="64" y="500" width="34" height="11"/><path d="M64 504.5h34M64 508.2h34"/><text x="81" y="503.4">PlaybackStateStruct</text></g>
<g id="SkiaComposeShader" class="n"><rect x="16" y="511" width="33" height="11"/><path d="M16 515.5h33M16 519.2h33"/><text x="32.5" y="514.4">SkiaComposeShader</text></g>
<g id="DeferStateStruct" class="n"><rect x="111" y="511" width="28" height="11"/><path d="M111 515.5h28M111 519.2h28"/><text x="125" y="514.4">DeferStateStruct</text></g>
<g id="SkiaGradientShader" class="n"><rect x="5" y="523" width="32" height="11"/><path d="M5 527.5h32M5 531.2h32"/><text x="21" y="526.4">SkiaGradientShader</text></g>
<g id="ReplayStateStruct" class="n"><rect x="67" y="519" width="30" height="11"/><path d="M67 523.5h30M67 527.2h30"/><text x="82" y="522.4">ReplayStateStruct</text></g>
<g id="DeferredDisplayList" class="n h"><rect x="101" y="536" width="32" height="11"/><path d="M101 540.5h32M101 544.2h32"/><text x="117" y="539.4">DeferredDisplayList</text></g>
<g id="DeferredDisplayState" class="n"><rect x="138" y="536" width="35" height="11"/><path d="M138 540.5h35M138 544.2h35"/><text x="155.5" y="539.4">DeferredDisplayState</text></g>
<g id="OpStatePair" class="n"><rect x="180" y="535" width="32" height="12"/><path d="M180 539.5h32M180 544.2h32"/><text x="196" y="538.4">OpStatePair</text></g>
<g id="Batch" class="n"><rect x="113" y="551" width="23" height="16"/><path d="M113 555.5h23M113 564.2h23"/><text x="124.5" y="554.4">Batch</text><text class="f" x="114.5" y="560.2">+replay()</text></g>
<g id="BarrierDebugBatch" class="n"><rect x="76" y="573" width="29" height="12"/><path d="M76 577.5h29M76 582.2h29"/><text x="90.5" y="576.4">BarrierDebugBatch</text></g>
<g id="DrawBatch" class="n"><rect x="107" y="573" width="17" height="12"/><path d="M107 577.5h17M107 582.2h17"/><text x="115.5" y="576.4">DrawBatch</text></g>
<g id="StateOpBatch" class="n"><rect x="126" y="573" width="22" height="12"/><path d="M126 577.5h22M126 582.2h22"/><text x="137" y="576.4">StateOpBatch</text></g>
<g id="RestoreToCountBatch" class="n"><rect x="149" y="573" width="36" height="12"/><path d="M149 577.5h36M149 582.2h36"/><text x="167" y="576.4">RestoreToCountBatch</text></g>
<g id="MergingDrawBatch" class="n h"><rect x="101" y="594" width="30" height="12"/><path d="M101 598.5h30M101 603.2h30"/><text x="116" y="597.4">MergingDrawBatch</text></g>
<g id="DisplayListData" class="n h"><rect x="191" y="479" width="47" height="33"/><path d="M191 483.5h47M191 509h47"/><text x="214.5" y="482.4">DisplayListData</text><text class="f" x="192.5" y="487.3">+SkBitmap: bitmapResources</text><text class="f" x="192.5" y="490.6">+SkBitmap: ownedBitmapResources</text><text class="f" x="192.5" y="493.9">+SkPaint: paints</text><text class="f" x="192.5" y="497.2">+SkPath: paths</text><text class="f" x="192.5" y="500.5">+SkRegion: regions</text></g>
<g id="Query" class="n"><rect x="338" y="491" width="15" height="11"/><path d="M338 495.5h15M338 499.2h15"/><text x="345.5" y="494.4">Query</text></g>
<g id="VertexBuffer" class="n"><rect x="356" y="489" width="25" height="11"/><path d="M356 493.5h25M356 497.2h25"/><text x="368.5" y="492.4">VertexBuffer</text></g>
<g id="AlphaVertex" class="n"><rect x="386" y="489" width="21" height="11"/><path d="M386 493.5h21M386 497.2h21"/><text x="396.5" y="492.4">AlphaVertex</text></g>
<g id="AutoFence" class="n"><rect x="409" y="489" width="20" height="11"/><path d="M409 493.5h20M409 497.2h20"/><text x="419" y="492.4">AutoFence</text></g>
<g id="Fence" class="n"><rect x="433" y="489" width="16" height="11"/><path d="M433 493.5h16M433 497.2h16"/><text x="441" y="492.4">Fence</text></g>
<g id="Image" class="n"><rect x="337" y="504" width="16" height="11"/><path d="M337 508.5h16M337 512.2h16"/><text x="345" y="507.4">Image</text></g>
<g id="Matrix4" class="n"><rect x="355" y="504" width="18" height="11"/><path d="M355 508.5h18M355 512.2h18"/><text x="364" y="507.4">Matrix4</text></g>
<g id="Outline" class="n"><rect x="377" y="504" width="14" height="11"/><path d="M377 508.5h14M377 512.2h14"/><text x="384" y="507.4">Outline</text></g>
<g id="Patch" class="n"><rect x="392" y="504" width="16" height="11"/><path d="M392 508.5h16M392 512.2h16"/><text x="400" y="507.4">Patch</text></g>
<g id="Program" class="n"><rect x="409" y="504" width="20" height="11"/><path d="M409 508.5h20M409 512.2h20"/><text x="419" y="507.4">Program</text></g>
</g>
<g id="labels" class="lb">
<text x="153" y="98.6">gradientCache</text>
<text x="182" y="89.6">fboCache</text>
<text x="219" y="106">mDither</text>
<text x="219" y="123">mExtensions</text>
<text x="219" y="137">mStencil</text>
<text x="219" y="150">layerCache</text>
<text x="227" y="97">mDropShadowCache</text>
<text x="189" y="172">tessellationCache</text>
<text x="112" y="180">mCaches</text>
<text x="209" y="201">textureCache</text>
<text x="236" y="200">programCache</text>
<text x="198" y="236.5">pathCache</text>
<text x="199" y="283">fontRenderer</text>
<text x="57" y="390">mRenderBufferCache</text>
<text x="249" y="64">mTasks</text>
<text x="314" y="79">mEglManager</text>
<text x="262" y="83.5">mRenderState</text>
<text x="295" y="105.5" text-anchor="end">mFrameCallbackTask</text>
<text x="317" y="108">mPendingRegistrationFrameCallbacks</text>
<text x="321" y="95">mDisplayEventReceiver</text>
<text x="298" y="221">mLayer</text>
<text x="314" y="200" text-anchor="end">mRootRenderNode</text>
<text x="347" y="177">mCanvas</text>
<text x="259" y="254.5">mAnimatorManager</text>
<text x="301" y="262">mProperties</text>
<text x="300" y="280">mLayerProperties</text>
<text x="322" y="240">mTarget</text>
<text x="366" y="201.5">mSurfaceTexture</text>
<text x="406" y="124">consumer</text>
<text x="428" y="127">producer</text>
<text x="240" y="470.6">mDisplayListData</text>
<text x="306" y="364">mProjectedNodes</text>
<text class="p" x="488" y="159">IGraphicBufferProducer</text>
<text class="p" x="452" y="194">IGraphicBufferConsumer</text>
</g>
</svg>
